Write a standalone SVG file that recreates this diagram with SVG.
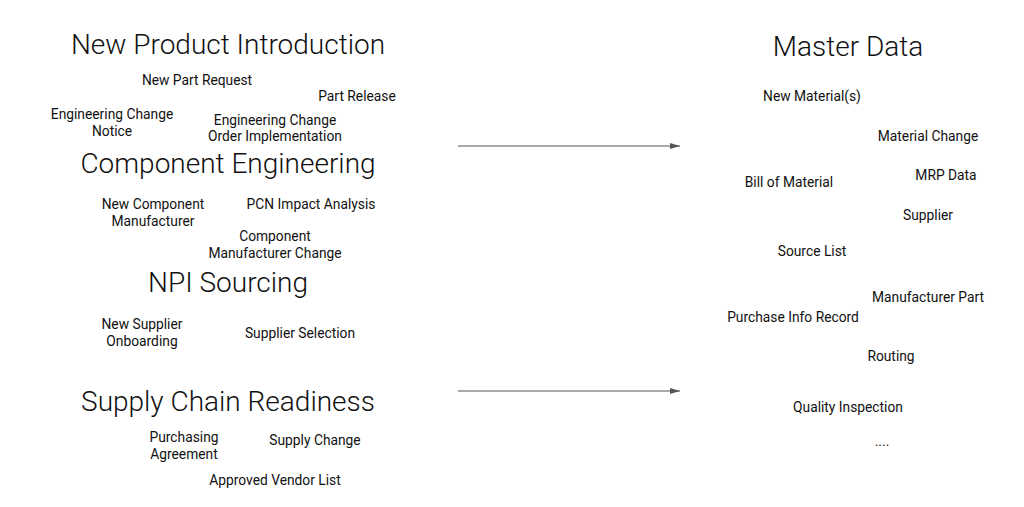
<svg xmlns="http://www.w3.org/2000/svg" width="1024" height="507" viewBox="0 0 1024 507">
<style>
text{font-family:Roboto,"Liberation Sans",sans-serif;fill:#111;text-anchor:middle}
.h{font-size:28px;font-weight:300}
.s{font-size:13.8px;font-weight:400}
.c{stroke:#555;stroke-width:1;fill:none}
</style>
<defs><marker id="a" markerWidth="10" markerHeight="8" refX="10" refY="4" orient="auto" markerUnits="userSpaceOnUse"><path d="M0,1 L10,4 L0,7 Z" fill="#555"/></marker></defs>
<rect width="1024" height="507" fill="#fff"/>
<g id="npi"><text class="h" x="228" y="54">New Product Introduction</text>
<text class="s" x="197" y="85">New Part Request</text>
<text class="s" x="357" y="101">Part Release</text>
<text class="s" x="112" y="119">Engineering Change</text><text class="s" x="112" y="136">Notice</text>
<text class="s" x="275" y="125">Engineering Change</text><text class="s" x="275" y="141">Order Implementation</text></g>
<g id="ce"><text class="h" x="228" y="173">Component Engineering</text>
<text class="s" x="153" y="209">New Component</text><text class="s" x="153" y="226">Manufacturer</text>
<text class="s" x="311" y="209">PCN Impact Analysis</text>
<text class="s" x="275" y="241">Component</text><text class="s" x="275" y="258">Manufacturer Change</text></g>
<g id="ns"><text class="h" x="228" y="292">NPI Sourcing</text>
<text class="s" x="142" y="329">New Supplier</text><text class="s" x="142" y="346">Onboarding</text>
<text class="s" x="300" y="338">Supplier Selection</text></g>
<g id="scr"><text class="h" x="228" y="411">Supply Chain Readiness</text>
<text class="s" x="184" y="442">Purchasing</text><text class="s" x="184" y="459">Agreement</text>
<text class="s" x="315" y="445">Supply Change</text>
<text class="s" x="275" y="485">Approved Vendor List</text></g>
<g id="md"><text class="h" x="848" y="56">Master Data</text>
<text class="s" x="812" y="101">New Material(s)</text>
<text class="s" x="928" y="141">Material Change</text>
<text class="s" x="789" y="187">Bill of Material</text>
<text class="s" x="946" y="180">MRP Data</text>
<text class="s" x="928" y="220">Supplier</text>
<text class="s" x="812" y="256">Source List</text>
<text class="s" x="928" y="302">Manufacturer Part</text>
<text class="s" x="793" y="322">Purchase Info Record</text>
<text class="s" x="891" y="361">Routing</text>
<text class="s" x="848" y="412">Quality Inspection</text>
<text class="s" x="882" y="446">....</text></g>
<g id="connectors">
<line class="c" x1="458" y1="146" x2="680" y2="146" marker-end="url(#a)"/>
<line class="c" x1="458" y1="391" x2="680" y2="391" marker-end="url(#a)"/>
</g>
</svg>
